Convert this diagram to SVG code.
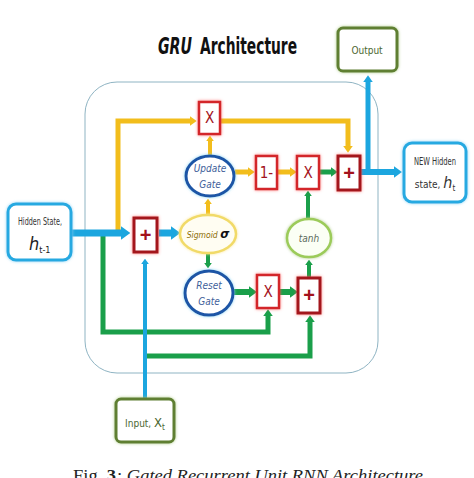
<svg xmlns="http://www.w3.org/2000/svg" width="474" height="478" viewBox="0 0 474 478">
<style>
.lbl{font-family:"Liberation Sans Narrow","DejaVu Sans Condensed","Liberation Sans",sans-serif;}
.op{fill:#fff;stroke:#d3262c;stroke-width:2.5;filter:url(#gR);}
.opd{fill:#fff;stroke:#a3141c;stroke-width:3;filter:url(#gR);}
.opt{font-family:"Liberation Sans Narrow","DejaVu Sans Condensed","Liberation Sans",sans-serif;font-size:15px;fill:#a3121c;text-anchor:middle;}
.plus{font-family:"Liberation Sans","DejaVu Sans",sans-serif;font-size:20px;font-weight:bold;fill:#a3121c;text-anchor:middle;}
.gate{fill:#fff;stroke:#1f55a6;stroke-width:3;filter:url(#gB);}
.gt{font-family:"Liberation Sans Narrow","DejaVu Sans Condensed","Liberation Sans",sans-serif;font-style:italic;font-size:10px;fill:#41609a;text-anchor:middle;}
.io{fill:#fff;stroke:#27a9e1;stroke-width:3;filter:url(#gB);}
.gio{fill:#fff;stroke:#5e7f32;stroke-width:3;filter:url(#gG);}
.t10{font-size:10px;fill:#333;text-anchor:middle;}
.tg{fill:#4a6630;}
.b{fill:none;stroke:#1ca6df;}
.y{fill:none;stroke:#f2bd1c;}
.g{fill:none;stroke:#1a9f4a;}
</style>
<defs>
<filter id="gR" x="-40%" y="-40%" width="180%" height="180%"><feDropShadow dx="0" dy="0" stdDeviation="1.6" flood-color="#ff5a5a" flood-opacity="0.8"/></filter>
<filter id="gB" x="-40%" y="-40%" width="180%" height="180%"><feDropShadow dx="0" dy="0" stdDeviation="1.6" flood-color="#7fd0f5" flood-opacity="0.9"/></filter>
<filter id="gG" x="-40%" y="-40%" width="180%" height="180%"><feDropShadow dx="0" dy="0" stdDeviation="1.8" flood-color="#a5c77a" flood-opacity="0.9"/></filter>
<filter id="gY" x="-40%" y="-40%" width="180%" height="180%"><feDropShadow dx="0" dy="0" stdDeviation="1.5" flood-color="#fbe58a" flood-opacity="0.9"/></filter>
<marker id="aB" viewBox="0 0 10 10" refX="0.5" refY="5" markerWidth="1.4" markerHeight="2" orient="auto" preserveAspectRatio="none"><path d="M0,0 L10,5 L0,10 z" fill="#1ca6df"/></marker>
<marker id="aY" viewBox="0 0 10 10" refX="0.5" refY="5" markerWidth="1.4" markerHeight="2" orient="auto" preserveAspectRatio="none"><path d="M0,0 L10,5 L0,10 z" fill="#f2bd1c"/></marker>
<marker id="aG" viewBox="0 0 10 10" refX="0.5" refY="5" markerWidth="1.4" markerHeight="2" orient="auto" preserveAspectRatio="none"><path d="M0,0 L10,5 L0,10 z" fill="#1a9f4a"/></marker>
</defs>
<rect width="474" height="478" fill="#fff"/>

<g id="title" font-family="Liberation Sans Narrow,DejaVu Sans Condensed,Liberation Sans,sans-serif" font-size="23" font-weight="bold" fill="#111">
<text x="158" y="54" font-style="italic" textLength="34" lengthAdjust="spacingAndGlyphs">GRU</text>
<text x="200" y="54" textLength="97" lengthAdjust="spacingAndGlyphs">Architecture</text>
</g>

<rect id="container" x="85" y="82" width="293" height="291" rx="32" fill="none" stroke="#8fb4c3" stroke-width="1"/>

<g id="connectors">
<path class="g" stroke-width="5" d="M103 233 V332 H268 V316" marker-end="url(#aG)"/>
<path class="g" stroke-width="5" d="M145 356 H310 V322" marker-end="url(#aG)"/>
<path class="g" stroke-width="4" d="M208 253 V263" marker-end="url(#aG)"/>
<path class="g" stroke-width="6" d="M233 292 H249" marker-end="url(#aG)"/>
<path class="g" stroke-width="6" d="M280 292 H290" marker-end="url(#aG)"/>
<path class="g" stroke-width="4" d="M309 277 V265" marker-end="url(#aG)"/>
<path class="g" stroke-width="4" d="M308 218 V196" marker-end="url(#aG)"/>
<path class="g" stroke-width="5" d="M320 172 H331" marker-end="url(#aG)"/>
<path class="y" stroke-width="5" d="M118 233 V121 H190" marker-end="url(#aY)"/>
<path class="y" stroke-width="5" d="M221 121 H348 V146" marker-end="url(#aY)"/>
<path class="y" stroke-width="4" d="M208 215 V204" marker-end="url(#aY)"/>
<path class="y" stroke-width="4" d="M210 156 V141" marker-end="url(#aY)"/>
<path class="y" stroke-width="5" d="M235 172 H248" marker-end="url(#aY)"/>
<path class="y" stroke-width="5" d="M278 172 H290" marker-end="url(#aY)"/>
<path class="b" stroke-width="7" d="M71 233 H121" marker-end="url(#aB)"/>
<path class="b" stroke-width="7" d="M159 233 H171" marker-end="url(#aB)"/>
<path class="b" stroke-width="4" d="M145 399 V264" marker-end="url(#aB)"/>
<path class="b" stroke-width="6" d="M360 172 H394" marker-end="url(#aB)"/>
<path class="b" stroke-width="5" d="M368 175 V82" marker-end="url(#aB)"/>
</g>

<g id="hidden-state">
<rect class="io" x="8" y="204" width="63" height="56" rx="8"/>
<text class="lbl t10" x="40" y="225" textLength="44" lengthAdjust="spacingAndGlyphs">Hidden State,</text>
<text class="lbl" x="29" y="250" font-size="18" font-style="italic" fill="#222">h<tspan font-size="9" font-style="normal" dy="3">t-1</tspan></text>
</g>

<g id="new-hidden">
<rect class="io" x="404" y="143" width="62" height="59" rx="8"/>
<text class="lbl t10" x="435" y="165" textLength="42" lengthAdjust="spacingAndGlyphs">NEW Hidden</text>
<text class="lbl t10" x="435" y="188">state, <tspan font-size="16" font-style="italic">h</tspan><tspan font-size="8" dy="3">t</tspan></text>
</g>

<g id="output">
<rect class="gio" x="338" y="28" width="59" height="43" rx="5"/>
<text class="lbl t10 tg" x="367" y="54">Output</text>
</g>

<g id="input">
<rect class="gio" x="116" y="399" width="58" height="43" rx="5"/>
<text class="lbl t10 tg" x="145" y="427">Input, <tspan font-size="13">X</tspan><tspan font-size="8" dy="3">t</tspan></text>
</g>

<g id="plus-in">
<rect class="opd" x="134" y="218" width="23" height="34"/>
<text class="plus" x="145.5" y="242">+</text>
</g>

<g id="sigmoid">
<ellipse cx="208" cy="234" rx="28" ry="19" fill="#fffdf2" stroke="#f1da68" stroke-width="2.5" filter="url(#gY)"/>
<text x="208" y="238" text-anchor="middle" class="lbl"><tspan font-size="8.5" font-style="italic" fill="#8a6a00">Sigmoid </tspan><tspan font-size="13" font-weight="bold" font-style="italic" fill="#111">σ</tspan></text>
</g>

<g id="update-gate">
<ellipse class="gate" cx="210" cy="176" rx="24" ry="20"/>
<text class="gt" x="210" y="172">Update</text>
<text class="gt" x="210" y="188">Gate</text>
</g>

<g id="reset-gate">
<ellipse class="gate" cx="209" cy="293" rx="24" ry="22"/>
<text class="gt" x="209" y="289" font-size="11">Reset</text>
<text class="gt" x="209" y="305" font-size="11">Gate</text>
</g>

<g id="mul-top">
<rect class="op" x="199" y="102" width="21" height="32"/>
<text class="opt" x="209.5" y="123">X</text>
</g>

<g id="one-minus">
<rect class="op" x="256" y="156" width="21" height="33"/>
<text class="opt" x="266.5" y="178">1-</text>
</g>

<g id="mul-mid">
<rect class="op" x="297" y="156" width="22" height="33"/>
<text class="opt" x="308" y="178">X</text>
</g>

<g id="plus-out">
<rect class="opd" x="338" y="156" width="22" height="34"/>
<text class="plus" x="349" y="180">+</text>
</g>

<g id="tanh">
<ellipse cx="309" cy="238" rx="22" ry="19" fill="#fbfff5" stroke="#9ccb5a" stroke-width="2.5" filter="url(#gG)"/>
<text class="gt" x="309" y="242" style="fill:#5c6b5c">tanh</text>
</g>

<g id="mul-low">
<rect class="op" x="257" y="275" width="22" height="33"/>
<text class="opt" x="268" y="297">X</text>
</g>

<g id="plus-low">
<rect class="opd" x="298" y="278" width="22" height="35"/>
<text class="plus" x="309" y="302">+</text>
</g>

<text x="73" y="481" font-family="Liberation Serif,serif" font-size="16" fill="#222" textLength="350" lengthAdjust="spacingAndGlyphs">Fig. <tspan font-weight="bold">3</tspan><tspan font-style="italic">: Gated Recurrent Unit RNN Architecture</tspan></text>
</svg>
